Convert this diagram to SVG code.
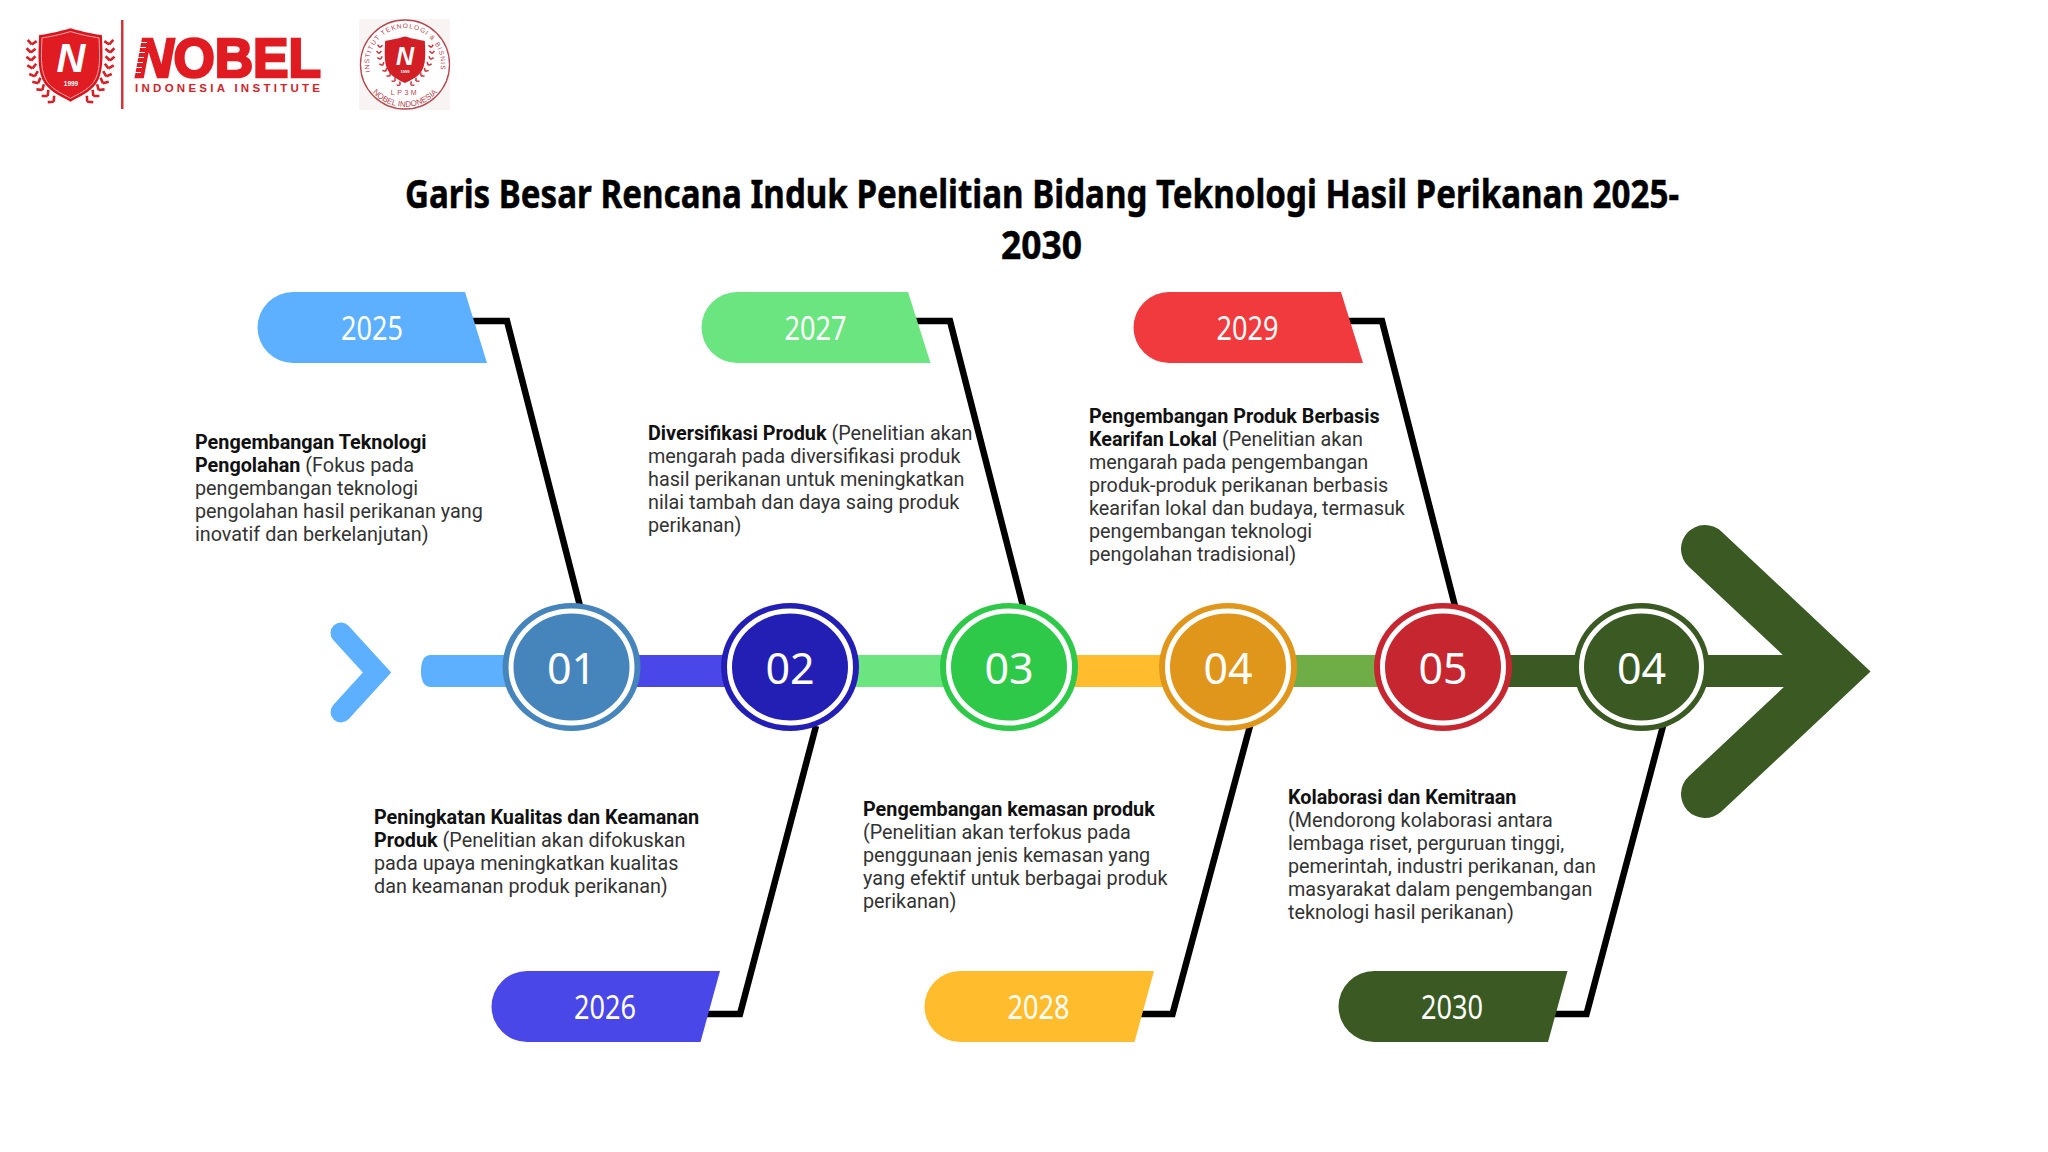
<svg xmlns="http://www.w3.org/2000/svg" width="2048" height="1152" viewBox="0 0 2048 1152">
<defs>
<style>
.body{font-family:Roboto,"Liberation Sans",sans-serif;font-size:19.8px;fill:#333}
.body tspan.b{font-weight:700;fill:#111}
.title{font-family:"Noto Sans",sans-serif;font-weight:700;font-size:40px;fill:#000;stroke:#000;stroke-width:.5}
.tag{font-family:"Noto Sans",sans-serif;font-size:33px;fill:#fff;text-anchor:middle}
.num{font-family:"Noto Sans",sans-serif;font-size:43px;fill:#fff;text-anchor:middle}
.ring{fill:none;stroke:#fff;stroke-width:5}
.conn{fill:none;stroke:#000;stroke-width:6.5;stroke-linejoin:miter}
.wr{fill:none;stroke:none;marker-start:url(#leafBig);marker-mid:url(#leafBig);marker-end:url(#leafBig)}
.wr2{fill:none;stroke:none;marker-start:url(#leafSm);marker-mid:url(#leafSm);marker-end:url(#leafSm)}
.seal{font-family:"Liberation Sans",sans-serif;font-size:6.6px;fill:#B5474F}
.logo{font-family:"Liberation Sans",sans-serif;font-weight:700}
</style>
<marker id="leafBig" markerUnits="userSpaceOnUse" markerWidth="12" markerHeight="12" refX="6" refY="6" orient="auto">
<path d="M8.500 6L4.500 1.500M8.500 6L4.500 10.500" fill="none" stroke="#D42027" stroke-width="2.600"/>
</marker>
<marker id="leafSm" markerUnits="userSpaceOnUse" markerWidth="8" markerHeight="8" refX="4" refY="4" orient="auto">
<path d="M5.500 4L3 1.500M5.500 4L3 6.500" fill="none" stroke="#C9353C" stroke-width="1.500"/>
</marker>
<path id="shield" d="M0 -37 C14 -33 24 -31 32 -30 C33 -8 34 8 26 20 C19 29 9 33 0 38 C-9 33 -19 29 -26 20 C-34 8 -33 -8 -32 -30 C-24 -31 -14 -33 0 -37 Z"/>
<path id="sealTop" d="M370 72A35.900 35.900 0 1 1 440 72"/>
<path id="sealBot" d="M362 70A43.500 43.500 0 0 0 448 70"/>
</defs>
<rect width="2048" height="1152" fill="#fff"/>

<g id="logo-nobel">
<polyline class="wr" points="32,42 31,50 31,58 32,66 34,74 37,81 41,88 46,94 52,100"/>
<polyline class="wr" points="109,42 110,50 110,58 109,66 107,74 104,81 100,88 95,94 89,100"/>
<use href="#shield" transform="translate(70.500 64.500) scale(.98)" fill="#D8151C"/>
<use href="#shield" transform="translate(70.500 64.500) scale(.89)" fill="#E01B22" stroke="#F6B9BB" stroke-width="1"/>
<text class="logo" x="71" y="72" font-style="italic" font-size="40" fill="#fff" text-anchor="middle">N</text>
<text class="logo" x="71" y="86" font-size="6.500" fill="#fff" text-anchor="middle">1999</text>
<rect x="121" y="20" width="2.500" height="89" fill="#D0353A"/>
<text class="logo" x="135" y="77" font-size="56" fill="#E01B22" stroke="#E01B22" stroke-width="2.600" textLength="186" lengthAdjust="spacingAndGlyphs"><tspan font-style="italic">N</tspan>OBEL</text>
<g fill="#fff"><rect x="133" y="42" width="14" height="1"/><rect x="133" y="47" width="13" height="1"/><rect x="133" y="52" width="12" height="1"/><rect x="133" y="57" width="11" height="1"/><rect x="133" y="62" width="10" height="1"/><rect x="133" y="67" width="9" height="1"/><rect x="133" y="72" width="8" height="1"/></g>
<text class="logo" x="135" y="92" font-size="11.500" fill="#D0252B" textLength="185">INDONESIA INSTITUTE</text>
</g>

<g id="logo-lp3m">
<rect x="359" y="19" width="91" height="91" fill="#F7F4F3"/>
<circle cx="405" cy="64.500" r="44.500" fill="#fff" stroke="#B5474F" stroke-width="1.300"/>
<polyline class="wr2" points="380,46 379,52 380,58 382,64 385,70 389,75 394,80 399,84"/>
<polyline class="wr2" points="431,46 432,52 431,58 429,64 426,70 422,75 417,80 412,84"/>
<use href="#shield" transform="translate(405 59.500) scale(.62)" fill="#D21F26"/>
<text class="logo" x="405" y="65" font-style="italic" font-size="25" fill="#fff" text-anchor="middle">N</text>
<text class="logo" x="405" y="73" font-size="4" fill="#fff" text-anchor="middle">1999</text>
<text class="seal" textLength="126"><textPath href="#sealTop" textLength="126">INSTITUT TEKNOLOGI &amp; BISNIS</textPath></text>
<text class="seal" style="font-size:8px" text-anchor="middle"><textPath href="#sealBot" startOffset="50%">NOBEL INDONESIA</textPath></text>
<text x="405" y="95" font-family="Liberation Sans,sans-serif" font-size="7" fill="#B5474F" text-anchor="middle" letter-spacing="2.500">LP3M</text>
</g>

<g id="title">
<text class="title" x="405" y="207.500" textLength="1274" lengthAdjust="spacingAndGlyphs">Garis Besar Rencana Induk Penelitian Bidang Teknologi Hasil Perikanan 2025-</text>
<text class="title" x="1001" y="258.500" textLength="81" lengthAdjust="spacingAndGlyphs">2030</text>
</g>

<g id="connectors">
<path class="conn" d="M470 321H507L580 606"/>
<path class="conn" d="M913 321H950L1023 606"/>
<path class="conn" d="M1345 321H1382L1455 606"/>
<path class="conn" d="M700 1014H740L816 726"/>
<path class="conn" d="M1135 1014H1172.500L1250 726"/>
<path class="conn" d="M1550 1014H1586.500L1663 726"/>
</g>

<g id="timeline-bar">
<path d="M431 655H530V687H431Q421 687 421 671Q421 655 431 655Z" fill="#5CB0FF"/>
<rect x="630" y="655" width="110" height="32" fill="#4A47E8"/>
<rect x="850" y="655" width="120" height="32" fill="#6BE57F"/>
<rect x="1070" y="655" width="110" height="32" fill="#FFBD2E"/>
<rect x="1290" y="655" width="100" height="32" fill="#6FAE47"/>
<rect x="1500" y="655" width="310" height="32" fill="#3B5A23"/>
</g>

<g id="chevron-start"><path d="M341 633L377 672.500L341 712" fill="none" stroke="#5CB0FF" stroke-width="21" stroke-linecap="round" stroke-miterlimit="6"/></g>
<g id="chevron-end"><path d="M1705 549L1835.500 671.500L1705 794" fill="none" stroke="#3B5A23" stroke-width="48" stroke-linecap="round" stroke-miterlimit="6"/></g>

<g id="tag-2025"><path d="M293 292H465L487 363H293A35.500 35.500 0 0 1 293 292Z" fill="#5CB0FF"/><text class="tag" x="372" y="339.500" textLength="62" lengthAdjust="spacingAndGlyphs">2025</text></g>
<g id="tag-2027"><path d="M737 292H908L930.500 363H737A35.500 35.500 0 0 1 737 292Z" fill="#6BE57F"/><text class="tag" x="815.500" y="339.500" textLength="62" lengthAdjust="spacingAndGlyphs">2027</text></g>
<g id="tag-2029"><path d="M1169 292H1341L1363 363H1169A35.500 35.500 0 0 1 1169 292Z" fill="#F03A3E"/><text class="tag" x="1247.500" y="339.500" textLength="62" lengthAdjust="spacingAndGlyphs">2029</text></g>
<g id="tag-2026"><path d="M527 971H720L700.500 1042H527A35.500 35.500 0 0 1 527 971Z" fill="#4A47E8"/><text class="tag" x="605" y="1018.500" textLength="62" lengthAdjust="spacingAndGlyphs">2026</text></g>
<g id="tag-2028"><path d="M960 971H1154L1134.500 1042H960A35.500 35.500 0 0 1 960 971Z" fill="#FFBD2E"/><text class="tag" x="1038.500" y="1018.500" textLength="62" lengthAdjust="spacingAndGlyphs">2028</text></g>
<g id="tag-2030"><path d="M1374 971H1567.500L1548 1042H1374A35.500 35.500 0 0 1 1374 971Z" fill="#3B5A23"/><text class="tag" x="1452" y="1018.500" textLength="62" lengthAdjust="spacingAndGlyphs">2030</text></g>

<g id="node-01"><ellipse cx="571.500" cy="667" rx="69" ry="64" fill="#4685BC"/><ellipse class="ring" cx="571.500" cy="667" rx="60.500" ry="56"/><text class="num" x="571.500" y="684">01</text></g>
<g id="node-02"><ellipse cx="790" cy="667" rx="69" ry="64" fill="#231FB5"/><ellipse class="ring" cx="790" cy="667" rx="60.500" ry="56"/><text class="num" x="790" y="684">02</text></g>
<g id="node-03"><ellipse cx="1009" cy="667" rx="69" ry="64" fill="#2FC94A"/><ellipse class="ring" cx="1009" cy="667" rx="60.500" ry="56"/><text class="num" x="1009" y="684">03</text></g>
<g id="node-04"><ellipse cx="1228" cy="667" rx="69" ry="64" fill="#E0961A"/><ellipse class="ring" cx="1228" cy="667" rx="60.500" ry="56"/><text class="num" x="1228" y="684">04</text></g>
<g id="node-05"><ellipse cx="1443" cy="667" rx="69" ry="64" fill="#C62630"/><ellipse class="ring" cx="1443" cy="667" rx="60.500" ry="56"/><text class="num" x="1443" y="684">05</text></g>
<g id="node-06"><ellipse cx="1641.500" cy="667" rx="68" ry="64" fill="#3B5A23"/><ellipse class="ring" cx="1641.500" cy="667" rx="60" ry="56"/><text class="num" x="1641.500" y="684">04</text></g>

<g id="text-2025">
<text class="body" x="195" y="448.500"><tspan class="b">Pengembangan Teknologi</tspan></text>
<text class="body" x="195" y="471.500"><tspan class="b">Pengolahan</tspan> (Fokus pada</text>
<text class="body" x="195" y="495">pengembangan teknologi</text>
<text class="body" x="195" y="518">pengolahan hasil perikanan yang</text>
<text class="body" x="195" y="541">inovatif dan berkelanjutan)</text>
</g>
<g id="text-2027">
<text class="body" x="648" y="439.500"><tspan class="b">Diversifikasi Produk</tspan> (Penelitian akan</text>
<text class="body" x="648" y="462.500">mengarah pada diversifikasi produk</text>
<text class="body" x="648" y="485.500">hasil perikanan untuk meningkatkan</text>
<text class="body" x="648" y="508.500">nilai tambah dan daya saing produk</text>
<text class="body" x="648" y="531.500">perikanan)</text>
</g>
<g id="text-2029">
<text class="body" x="1089" y="422.500"><tspan class="b">Pengembangan Produk Berbasis</tspan></text>
<text class="body" x="1089" y="445.500"><tspan class="b">Kearifan Lokal</tspan> (Penelitian akan</text>
<text class="body" x="1089" y="468.500">mengarah pada pengembangan</text>
<text class="body" x="1089" y="491.500">produk-produk perikanan berbasis</text>
<text class="body" x="1089" y="514.500">kearifan lokal dan budaya, termasuk</text>
<text class="body" x="1089" y="537.500">pengembangan teknologi</text>
<text class="body" x="1089" y="560.500">pengolahan tradisional)</text>
</g>
<g id="text-2026">
<text class="body" x="374" y="824"><tspan class="b">Peningkatan Kualitas dan Keamanan</tspan></text>
<text class="body" x="374" y="847"><tspan class="b">Produk</tspan> (Penelitian akan difokuskan</text>
<text class="body" x="374" y="870">pada upaya meningkatkan kualitas</text>
<text class="body" x="374" y="893">dan keamanan produk perikanan)</text>
</g>
<g id="text-2028">
<text class="body" x="863" y="816">
<tspan class="b">Pengembangan kemasan produk</tspan></text>
<text class="body" x="863" y="839">(Penelitian akan terfokus pada</text>
<text class="body" x="863" y="862">penggunaan jenis kemasan yang</text>
<text class="body" x="863" y="885">yang efektif untuk berbagai produk</text>
<text class="body" x="863" y="908">perikanan)</text>
</g>
<g id="text-2030">
<text class="body" x="1288" y="804"><tspan class="b">Kolaborasi dan Kemitraan</tspan></text>
<text class="body" x="1288" y="827">(Mendorong kolaborasi antara</text>
<text class="body" x="1288" y="850">lembaga riset, perguruan tinggi,</text>
<text class="body" x="1288" y="873">pemerintah, industri perikanan, dan</text>
<text class="body" x="1288" y="896">masyarakat dalam pengembangan</text>
<text class="body" x="1288" y="919">teknologi hasil perikanan)</text>
</g>
</svg>
